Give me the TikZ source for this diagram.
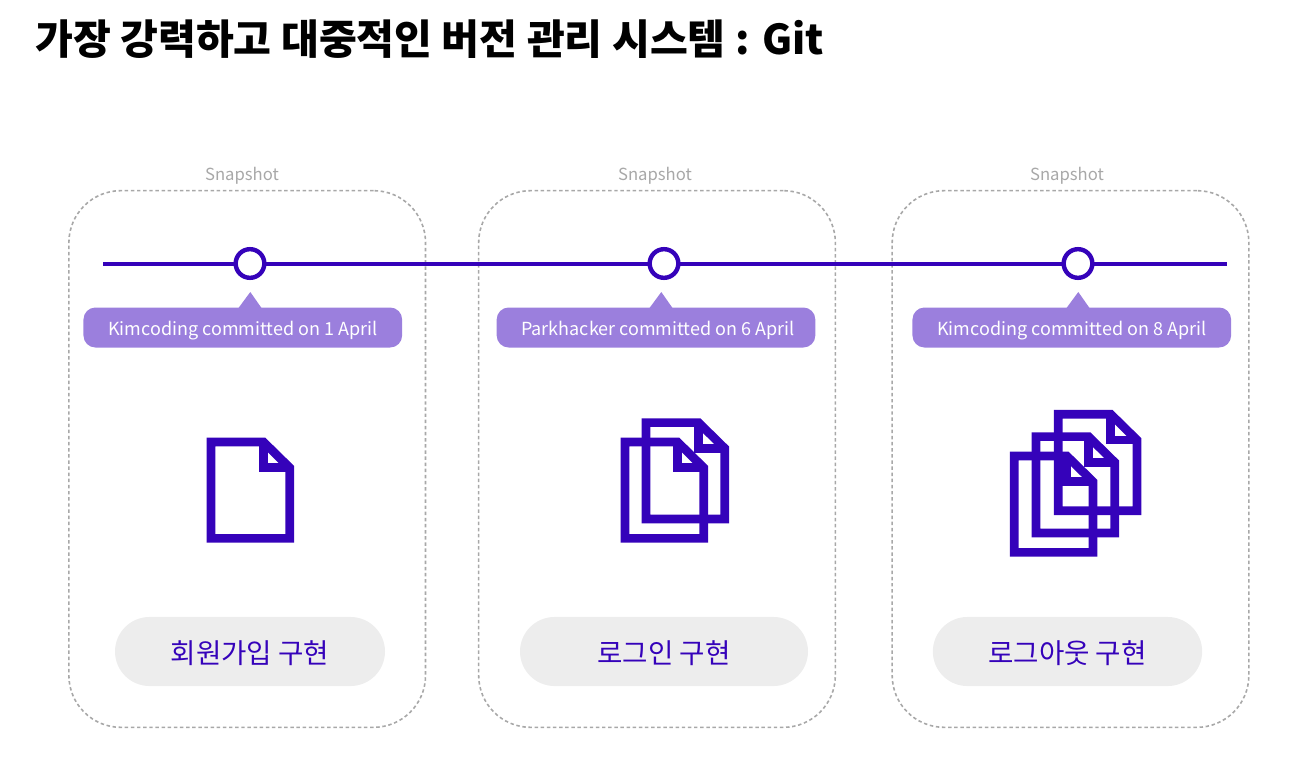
\documentclass[tikz,border=0pt]{standalone}
\usepackage{fontspec}
\setmainfont{Noto Sans CJK KR}
\definecolor{gitpurple}{HTML}{3502BA}
\definecolor{bubblepurple}{HTML}{9B7FDD}
\definecolor{pillgray}{HTML}{EDEDED}
\definecolor{snapgray}{HTML}{A8A8A8}
\tikzset{
  snapbox/.style={draw=snapgray, line width=1.2pt, dash pattern=on 2.6pt off 2pt, rounded corners=39pt,
    minimum width=267.5pt, minimum height=402.5pt, inner sep=0pt},
  snaplabel/.style={text=snapgray, font=\fontsize{12.5}{12.5}\selectfont, inner sep=0pt},
  commitdot/.style={circle, draw=gitpurple, line width=3.3pt, fill=white, minimum size=21.5pt, inner sep=0pt, outer sep=0pt},
  bubble/.style={fill=bubblepurple, text=white, rounded corners=9pt, minimum width=239pt, minimum height=30pt,
    inner sep=0pt, text height=12.4pt, text depth=0pt, font=\fontsize{13.5}{13.5}\selectfont},
  pill/.style={fill=pillgray, text=gitpurple, rounded corners=25.9pt, minimum height=51.8pt,
    inner sep=0pt, text height=17.4pt, text depth=0pt, font=\fontsize{20.7}{20.7}\selectfont},
  docicon/.pic={
    \draw[gitpurple, line width=6.5pt, miter limit=10]
      (4.3,4.3) -- (56.8,4.3) -- (83,30) -- (83,100.7) -- (4.3,100.7) -- cycle;
    \draw[gitpurple, line width=6.5pt] (56.8,4.3) -- (56.8,30) -- (83,30);
  }
}
\begin{document}
\begin{tikzpicture}[x=0.75pt, y=-0.75pt]
\useasboundingbox (0,0) rectangle (1298,784);

% Title
      \node[anchor=base west, inner sep=0pt, font=\fontsize{30.85}{30.85}\selectfont\bfseries] (title) at (35,55) {가장 강력하고 대중적인 버전 관리 시스템 : Git};

% Snapshot frames
      \node[snapbox] (frameA) at (247.2,459) {};
      \node[snapbox] (frameB) at (657,459) {};
      \node[snapbox] (frameC) at (1070.5,459) {};
      \node[snaplabel] (snapA) at (242,176) {Snapshot};
      \node[snaplabel] (snapB) at (655,176) {Snapshot};
      \node[snaplabel] (snapC) at (1067,176) {Snapshot};

% Timeline
      \coordinate (lineStart) at (103,263.5);
      \coordinate (lineEnd) at (1227,263.5);
      \node[commitdot] (commitA) at (250,263.5) {};
      \node[commitdot] (commitB) at (664,263.5) {};
      \node[commitdot] (commitC) at (1078,263.5) {};
      \draw[gitpurple, line width=3pt] (lineStart) -- (commitA) -- (commitB) -- (commitC) -- (lineEnd);

% Commit messages
      \node[bubble] (msgA) at (242.8,327.5) {Kimcoding committed on 1 April};
      \node[bubble] (msgB) at (656,327.5) {\kern3pt Parkhacker committed on 6 April};
      \node[bubble] (msgC) at (1071.8,327.5) {Kimcoding committed on 8 April};
      \fill[bubblepurple] (238.5,308) -- (250.3,292) -- (261.5,308) -- cycle;
      \fill[bubblepurple] (649.5,308) -- (661.3,292) -- (672.5,308) -- cycle;
      \fill[bubblepurple] (1066.5,308) -- (1078.3,292) -- (1089.5,308) -- cycle;

% Files
      \pic at (206.7,437.7) {docicon};
      \pic at (641.7,418.3) {docicon};
      \pic at (620.7,437.7) {docicon};
      \pic at (1054,410) {docicon};
      \pic at (1031.7,432.3) {docicon};
      \pic at (1010,451.7) {docicon};

% Features
      \node[pill, minimum width=202.5pt] (featA) at (250,651.5) {회원가입 구현};
      \node[pill, minimum width=216pt] (featB) at (664,651.5) {로그인 구현};
      \node[pill, minimum width=202pt] (featC) at (1067.5,651.5) {로그아웃 구현};

\end{tikzpicture}
\end{document}
